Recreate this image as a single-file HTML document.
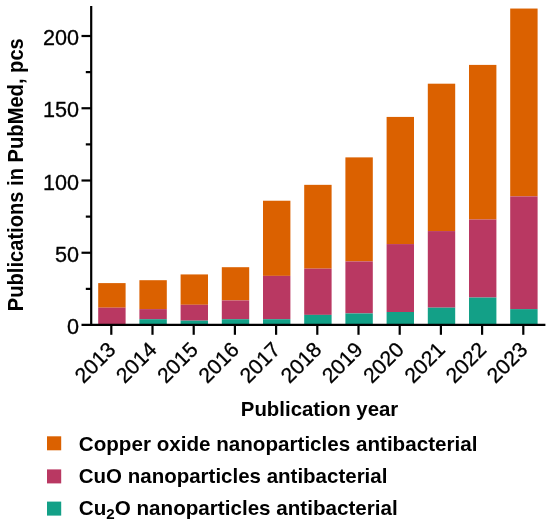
<!DOCTYPE html>
<html><head><meta charset="utf-8"><style>
html,body{margin:0;padding:0;background:#fff;}
svg{display:block;}
.tk{font-family:"Liberation Sans",Arial,sans-serif;font-size:21.6px;fill:#000;stroke:#000;stroke-width:0.3px;}
.ti{font-family:"Liberation Sans",Arial,sans-serif;font-size:20.8px;font-weight:bold;fill:#000;}
.lg{font-family:"Liberation Sans",Arial,sans-serif;font-size:20.4px;font-weight:bold;fill:#000;}
.sub{font-size:15px;}
.xl{font-size:21.1px;}
.yt{font-size:22px;}
</style></head><body>
<svg width="550" height="524" viewBox="0 0 550 524">
<rect x="98.20" y="283.10" width="27.4" height="24.57" fill="#DB6100"/>
<rect x="98.20" y="307.66" width="27.4" height="17.34" fill="#B93862"/>
<rect x="139.40" y="280.20" width="27.4" height="28.90" fill="#DB6100"/>
<rect x="139.40" y="309.11" width="27.4" height="10.12" fill="#B93862"/>
<rect x="139.40" y="319.22" width="27.4" height="5.78" fill="#13A087"/>
<rect x="180.60" y="274.43" width="27.4" height="30.35" fill="#DB6100"/>
<rect x="180.60" y="304.77" width="27.4" height="15.90" fill="#B93862"/>
<rect x="180.60" y="320.67" width="27.4" height="4.33" fill="#13A087"/>
<rect x="221.80" y="267.20" width="27.4" height="33.23" fill="#DB6100"/>
<rect x="221.80" y="300.44" width="27.4" height="18.79" fill="#B93862"/>
<rect x="221.80" y="319.22" width="27.4" height="5.78" fill="#13A087"/>
<rect x="263.00" y="200.73" width="27.4" height="75.14" fill="#DB6100"/>
<rect x="263.00" y="275.87" width="27.4" height="43.35" fill="#B93862"/>
<rect x="263.00" y="319.22" width="27.4" height="5.78" fill="#13A087"/>
<rect x="304.20" y="184.84" width="27.4" height="83.81" fill="#DB6100"/>
<rect x="304.20" y="268.64" width="27.4" height="46.24" fill="#B93862"/>
<rect x="304.20" y="314.88" width="27.4" height="10.12" fill="#13A087"/>
<rect x="345.40" y="157.38" width="27.4" height="104.04" fill="#DB6100"/>
<rect x="345.40" y="261.42" width="27.4" height="52.02" fill="#B93862"/>
<rect x="345.40" y="313.44" width="27.4" height="11.56" fill="#13A087"/>
<rect x="386.60" y="116.92" width="27.4" height="127.16" fill="#DB6100"/>
<rect x="386.60" y="244.08" width="27.4" height="67.92" fill="#B93862"/>
<rect x="386.60" y="312.00" width="27.4" height="13.01" fill="#13A087"/>
<rect x="427.80" y="83.69" width="27.4" height="147.39" fill="#DB6100"/>
<rect x="427.80" y="231.07" width="27.4" height="76.59" fill="#B93862"/>
<rect x="427.80" y="307.66" width="27.4" height="17.34" fill="#13A087"/>
<rect x="469.00" y="64.90" width="27.4" height="154.62" fill="#DB6100"/>
<rect x="469.00" y="219.51" width="27.4" height="78.03" fill="#B93862"/>
<rect x="469.00" y="297.55" width="27.4" height="27.46" fill="#13A087"/>
<rect x="510.20" y="8.54" width="27.4" height="187.85" fill="#DB6100"/>
<rect x="510.20" y="196.39" width="27.4" height="112.71" fill="#B93862"/>
<rect x="510.20" y="309.11" width="27.4" height="15.90" fill="#13A087"/>
<line x1="91.2" y1="6" x2="91.2" y2="325.0" stroke="#000" stroke-width="2.2"/>
<line x1="81.5" y1="324.85" x2="545.4" y2="324.85" stroke="#000" stroke-width="2.2"/>
<line x1="81.5" y1="252.75" x2="91.2" y2="252.75" stroke="#000" stroke-width="2.2"/>
<line x1="81.5" y1="180.50" x2="91.2" y2="180.50" stroke="#000" stroke-width="2.2"/>
<line x1="81.5" y1="108.25" x2="91.2" y2="108.25" stroke="#000" stroke-width="2.2"/>
<line x1="81.5" y1="36.00" x2="91.2" y2="36.00" stroke="#000" stroke-width="2.2"/>
<line x1="85.8" y1="288.88" x2="91.2" y2="288.88" stroke="#000" stroke-width="2.2"/>
<line x1="85.8" y1="216.62" x2="91.2" y2="216.62" stroke="#000" stroke-width="2.2"/>
<line x1="85.8" y1="144.38" x2="91.2" y2="144.38" stroke="#000" stroke-width="2.2"/>
<line x1="85.8" y1="72.12" x2="91.2" y2="72.12" stroke="#000" stroke-width="2.2"/>
<text x="79" y="334.00" text-anchor="end" class="tk">0</text>
<text x="79" y="261.75" text-anchor="end" class="tk">50</text>
<text x="79" y="189.50" text-anchor="end" class="tk">100</text>
<text x="79" y="117.25" text-anchor="end" class="tk">150</text>
<text x="79" y="45.00" text-anchor="end" class="tk">200</text>
<line x1="111.30" y1="325.0" x2="111.30" y2="334.8" stroke="#000" stroke-width="2.2"/>
<text class="tk xl" text-anchor="end" transform="translate(116.80,351) rotate(-45)">2013</text>
<line x1="152.50" y1="325.0" x2="152.50" y2="334.8" stroke="#000" stroke-width="2.2"/>
<text class="tk xl" text-anchor="end" transform="translate(158.00,351) rotate(-45)">2014</text>
<line x1="193.70" y1="325.0" x2="193.70" y2="334.8" stroke="#000" stroke-width="2.2"/>
<text class="tk xl" text-anchor="end" transform="translate(199.20,351) rotate(-45)">2015</text>
<line x1="234.90" y1="325.0" x2="234.90" y2="334.8" stroke="#000" stroke-width="2.2"/>
<text class="tk xl" text-anchor="end" transform="translate(240.40,351) rotate(-45)">2016</text>
<line x1="276.10" y1="325.0" x2="276.10" y2="334.8" stroke="#000" stroke-width="2.2"/>
<text class="tk xl" text-anchor="end" transform="translate(281.60,351) rotate(-45)">2017</text>
<line x1="317.30" y1="325.0" x2="317.30" y2="334.8" stroke="#000" stroke-width="2.2"/>
<text class="tk xl" text-anchor="end" transform="translate(322.80,351) rotate(-45)">2018</text>
<line x1="358.50" y1="325.0" x2="358.50" y2="334.8" stroke="#000" stroke-width="2.2"/>
<text class="tk xl" text-anchor="end" transform="translate(364.00,351) rotate(-45)">2019</text>
<line x1="399.70" y1="325.0" x2="399.70" y2="334.8" stroke="#000" stroke-width="2.2"/>
<text class="tk xl" text-anchor="end" transform="translate(405.20,351) rotate(-45)">2020</text>
<line x1="440.90" y1="325.0" x2="440.90" y2="334.8" stroke="#000" stroke-width="2.2"/>
<text class="tk xl" text-anchor="end" transform="translate(446.40,351) rotate(-45)">2021</text>
<line x1="482.10" y1="325.0" x2="482.10" y2="334.8" stroke="#000" stroke-width="2.2"/>
<text class="tk xl" text-anchor="end" transform="translate(487.60,351) rotate(-45)">2022</text>
<line x1="523.30" y1="325.0" x2="523.30" y2="334.8" stroke="#000" stroke-width="2.2"/>
<text class="tk xl" text-anchor="end" transform="translate(528.80,351) rotate(-45)">2023</text>
<text class="ti" x="240.8" y="415.8" textLength="157.5" lengthAdjust="spacingAndGlyphs">Publication year</text>
<text class="ti yt" textLength="273" lengthAdjust="spacingAndGlyphs" transform="translate(23.3,311.2) rotate(-90)">Publications in PubMed, pcs</text>
<rect x="47" y="436.3" width="14.2" height="14" fill="#DB6100"/>
<text class="lg" x="78.8" y="450.5" textLength="398.6" lengthAdjust="spacingAndGlyphs">Copper oxide nanoparticles antibacterial</text>
<rect x="47" y="469.4" width="14.2" height="14" fill="#B93862"/>
<text class="lg" x="78.8" y="482.7" textLength="308.6" lengthAdjust="spacingAndGlyphs">CuO nanoparticles antibacterial</text>
<rect x="47" y="501.6" width="14.2" height="14" fill="#13A087"/>
<text class="lg" x="78.8" y="514.7" textLength="319" lengthAdjust="spacingAndGlyphs">Cu<tspan class="sub" dy="4.2">2</tspan><tspan dy="-4.2">O nanoparticles antibacterial</tspan></text>
</svg>
</body></html>
